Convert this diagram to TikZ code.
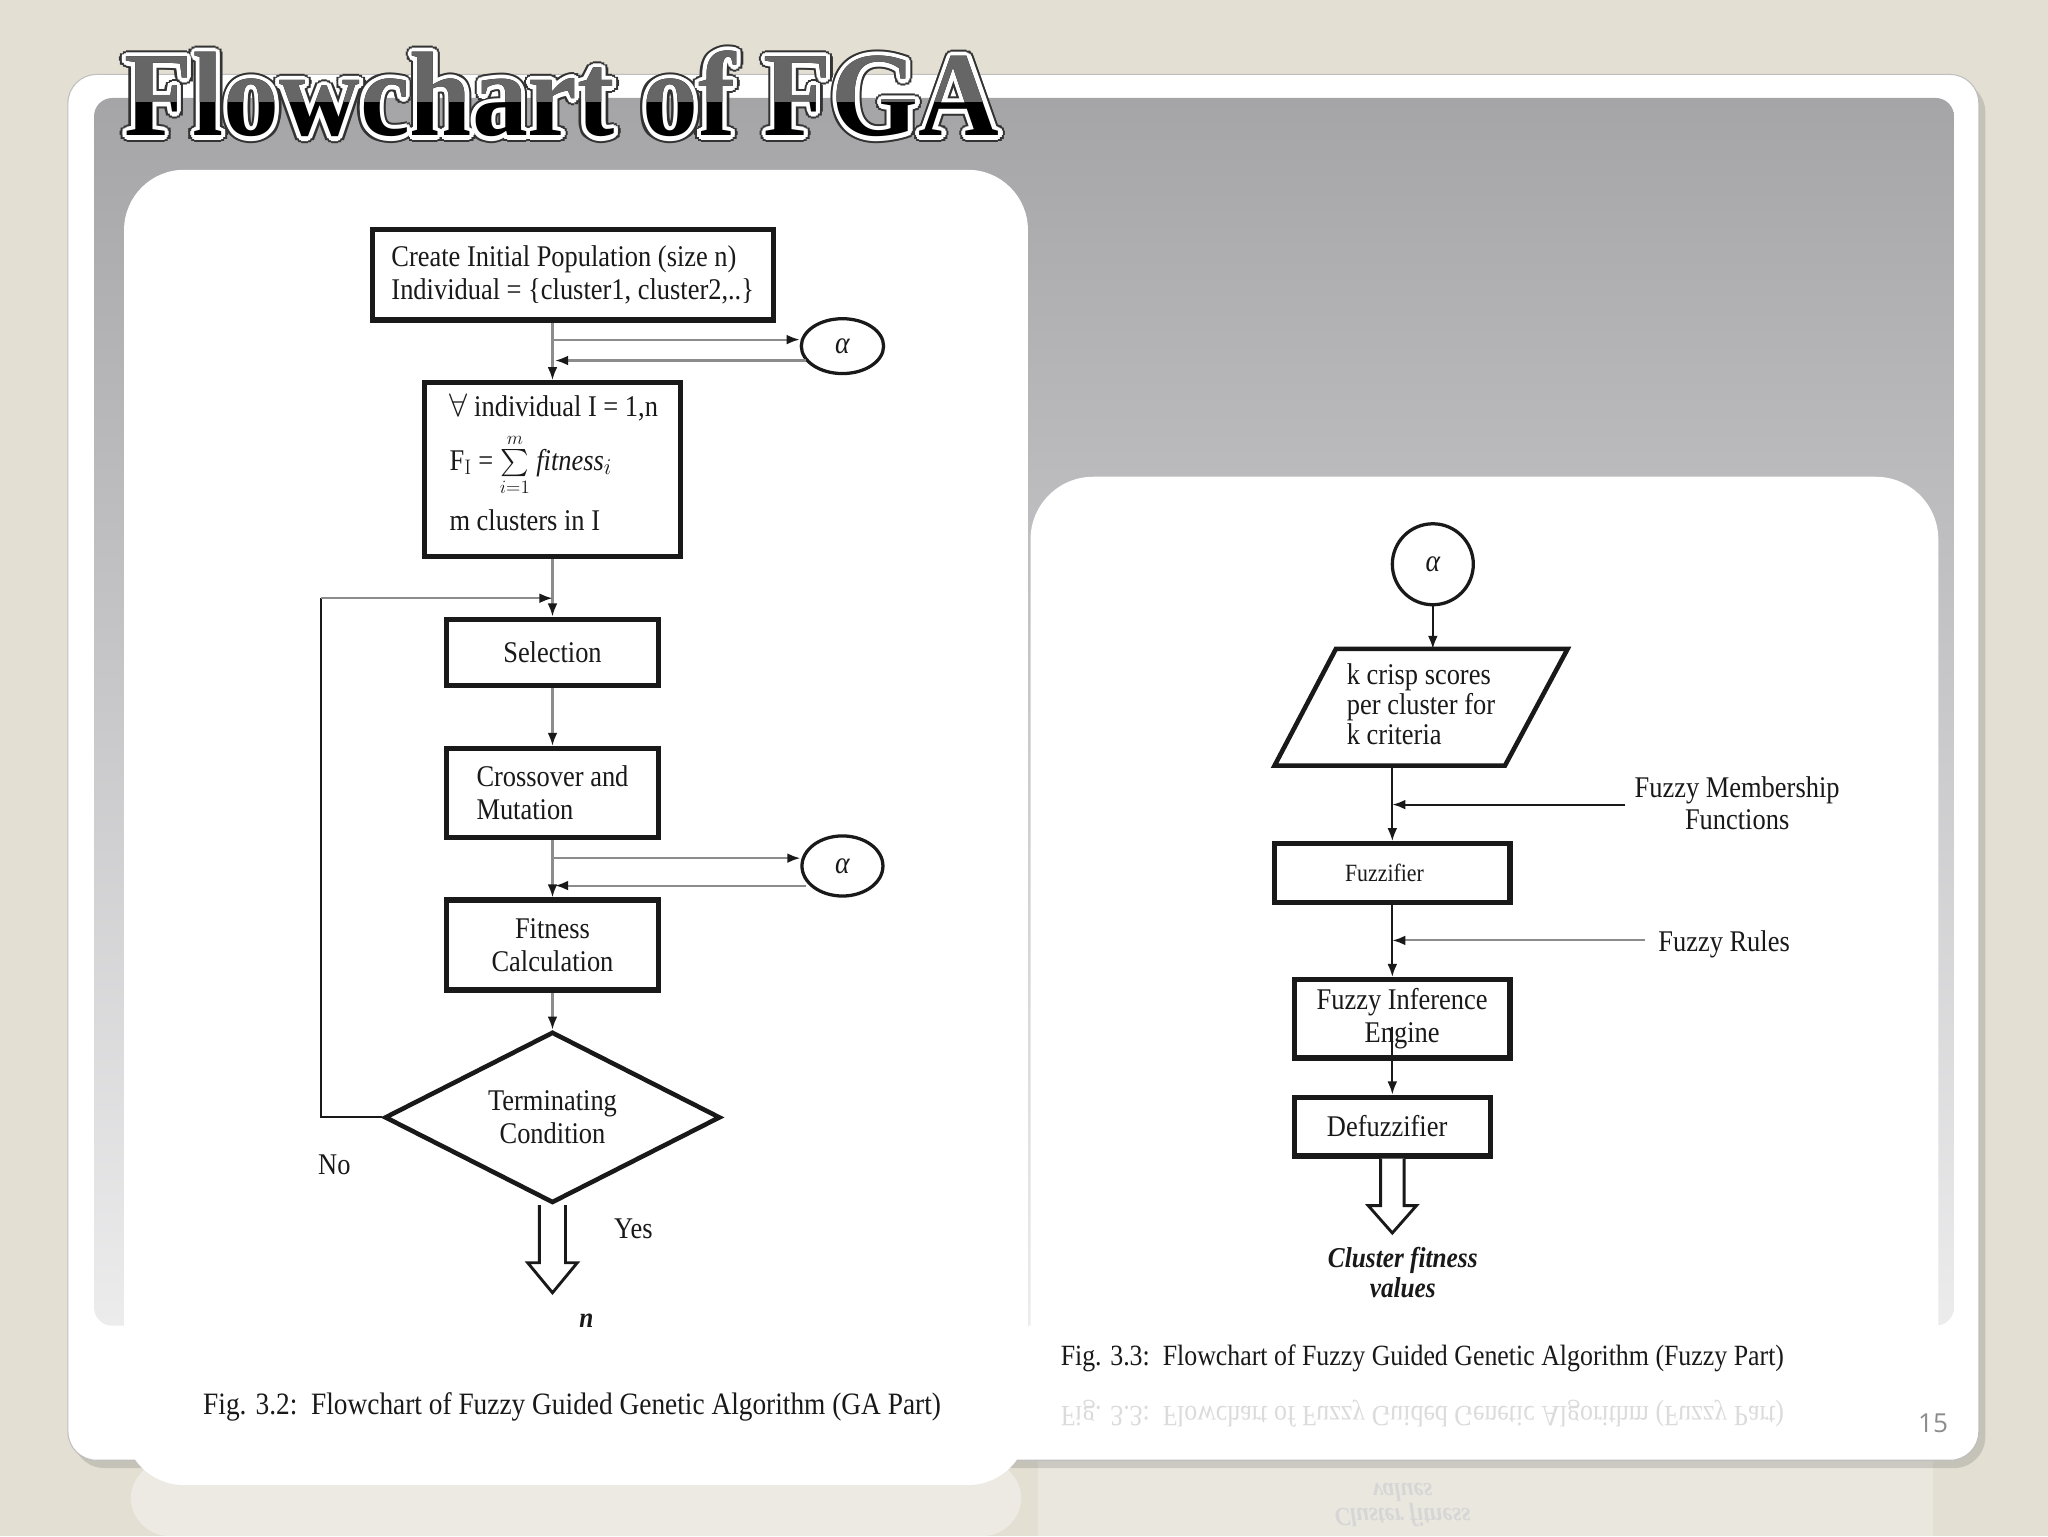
\documentclass[tikz,border=0pt]{standalone}
\usepackage{amsmath}
\usepackage{fontspec}
\newfontfamily\scanfont{Liberation Serif}[FakeStretch=0.88]
\newfontfamily\titlefont{Liberation Serif}[FakeStretch=0.93]
\newfontfamily\numfont{Open Sans}
\newcommand\chartfont{\scanfont\fontsize{23}{25}\selectfont}
\usetikzlibrary{arrows.meta,shapes.geometric,calc}
\definecolor{beige}{RGB}{227,223,211}
\definecolor{grayTop}{RGB}{165,165,168}
\definecolor{grayBot}{RGB}{236,236,237}
\definecolor{inkc}{RGB}{25,25,25}
\begin{document}
\begin{tikzpicture}[x=1pt,y=-1pt,
  flowbox/.style={draw=inkc, line width=4pt, fill=white, inner sep=0pt, font=\chartfont, text=inkc},
  conn/.style={line width=1.6pt, draw=black!45},
  darkconn/.style={line width=1.6pt, draw=inkc},
  tip/.style={-{Latex[length=10pt,width=7.5pt,color=inkc]}},
  lbl/.style={font=\chartfont, text=inkc, inner sep=1pt},
  alphanode/.style={draw=inkc, line width=2.5pt, ellipse, inner sep=0pt, font=\scanfont\itshape\fontsize{24}{26}\selectfont, text=inkc},
  hollow/.style={draw=inkc, line width=2.2pt, fill=white}
]
\useasboundingbox (0,0) rectangle (1568,1176);
% ---------- slide background ----------
\fill[beige] (0,0) rectangle (1568,1176);
\fill[white, opacity=0.35, rounded corners=30] (100,1118) rectangle (782,1176);
\fill[white, opacity=0.25] (795,1118) rectangle (1480,1176);
\fill[black, opacity=0.13, rounded corners=24] (56,62) rectangle (1520,1124);
\fill[white, draw=black!25, line width=0.8pt, rounded corners=22] (52,57) rectangle (1515,1118);
\shade[top color=grayTop, bottom color=grayBot, rounded corners=14] (72,75) rectangle (1496,1015);
% panels
\fill[white, rounded corners=46] (95,130) rectangle (787,1137);
\fill[white, rounded corners=48] (789,365) rectangle (1484,1117);
% ---------- title ----------
\foreach \a in {0,30,...,330}{
  \node[anchor=base west, inner sep=0pt, text=black!80, font=\titlefont\bfseries\fontsize{92}{92}\selectfont,
        xshift={5*cos(\a)}, yshift={5*sin(\a)}] (to\a) at (95,104) {Flowchart of FGA};
}
\foreach \a in {0,30,...,330}{
  \node[anchor=base west, inner sep=0pt, text=white, font=\titlefont\bfseries\fontsize{92}{92}\selectfont,
        xshift={3.2*cos(\a)}, yshift={3.2*sin(\a)}] (tw\a) at (95,104) {Flowchart of FGA};
}
\node[anchor=base west, inner sep=0pt, text=black, font=\titlefont\bfseries\fontsize{92}{92}\selectfont] (title) at (95,104) {Flowchart of FGA};
\begin{scope}
  \clip (0,0) rectangle (1568,78);
  \node[anchor=base west, inner sep=0pt, text=black!60, font=\titlefont\bfseries\fontsize{92}{92}\selectfont] (titletop) at (95,104) {Flowchart of FGA};
\end{scope}
% ---------- left flowchart ----------
\node[flowbox, minimum width=307, minimum height=69, align=left] (box1) at (438.5,210.5)
  {Create Initial Population (size n)\\Individual = \{cluster1, cluster2,..\}};
\node[flowbox, minimum width=196, minimum height=133] (box2) at (423,359.5) {};
\node[lbl, anchor=west, inner sep=0pt] (b2a) at (344,312) {$\forall$ individual I = 1,n};
\node[lbl, anchor=west, inner sep=0pt] (b2b) at (344,356) {F$_{\mathrm{I}}$ = {\fontsize{20}{22}\selectfont$\sum\limits_{i=1}^{m}$} \textit{fitness}$_{i}$};
\node[lbl, anchor=west, inner sep=0pt] (b2c) at (344,398) {m clusters in I};
\node[flowbox, minimum width=162, minimum height=51] (sel) at (423,499.5) {Selection};
\node[flowbox, minimum width=162, minimum height=68, align=left] (cross) at (423,607) {Crossover and\\Mutation};
\node[flowbox, minimum width=162, minimum height=69, align=center] (fit) at (423,723.5) {Fitness\\Calculation};
\node[flowbox, line width=3.5pt, diamond, aspect=1.96, minimum width=257, minimum height=131, align=center] (dia) at (423,855.5) {Terminating\\Condition};
\node[alphanode, minimum width=63, minimum height=42] (alpha1) at (645,265) {α};
\node[alphanode, minimum width=62, minimum height=46] (alpha2) at (645,663) {α};
\coordinate (o1) at (423,260);
\coordinate (r1) at (423,276);
\coordinate (o2) at (423,657);
\coordinate (r2) at (423,678);
\coordinate (lp) at (423,458);
\coordinate (lpx) at (246,458);
\draw[conn,tip] (box2.north |- box1.south) -- (box2.north);
\draw[conn,tip] (o1) -- (o1 -| alpha1.west);
\draw[conn,tip] ([xshift=5pt]r1 -| alpha1.west) -- ([xshift=2pt]r1);
\draw[conn,tip] (box2.south) -- (sel.north);
\draw[darkconn] (dia.west) -- (dia.west -| lpx) -- (lpx);
\draw[conn,tip] (lpx) -- (lp);
\draw[conn,tip] (sel.south) -- (cross.north);
\draw[conn,tip] (cross.south) -- (fit.north);
\draw[conn,tip] (o2) -- (o2 -| alpha2.west);
\draw[conn,tip] ([xshift=4pt]r2 -| alpha2.west) -- ([xshift=2pt]r2);
\draw[conn,tip] (fit.south) -- (dia.north);
\draw[hollow] ($(dia.south)+(-10,0)$) -- ++(0,44) -- ++(-9,0) -- ($(dia.south)+(0,67)$)
  -- ($(dia.south)+(19,44)$) -- ++(-9,0) -- ($(dia.south)+(10,0)$);
\node[lbl] (nolbl) at (256,892) {No};
\node[lbl] (yeslbl) at (485,941) {Yes};
\node[lbl, font=\scanfont\bfseries\itshape\fontsize{22}{24}\selectfont] (nlbl) at (449,1011) {n};
\node[lbl, font=\scanfont\fontsize{23.8}{25}\selectfont] (cap1) at (438,1077) {Fig. 3.2:\ \ Flowchart of Fuzzy Guided Genetic Algorithm (GA Part)};
% ---------- right flowchart ----------
\node[alphanode, circle, minimum size=62] (alpha3) at (1097,432) {α};
\node[inner sep=0pt, minimum width=224, minimum height=89, align=left, font=\scanfont\fontsize{23}{23}\selectfont, text=inkc] (para) at (1088,539.5)
  {k crisp scores\\per cluster for\\k criteria};
\draw[inkc, line width=3.5pt, line join=miter] ([xshift=47pt,yshift=-2pt]para.north west) -- ([yshift=-2pt]para.north east)
  -- ([xshift=-48pt,yshift=-2pt]para.south east) -- ([yshift=-2pt]para.south west) -- cycle;
\node[flowbox, minimum width=180, minimum height=45, font=\scanfont\fontsize{19}{21}\selectfont] (fuzz) at (1066,668.5) {\hspace*{-12pt}Fuzzifier};
\node[flowbox, minimum width=165, minimum height=60, align=center] (fie) at (1073.5,780) {Fuzzy Inference\\Engine};
\node[flowbox, minimum width=150, minimum height=45] (defz) at (1066,862.5) {\hspace*{-8pt}Defuzzifier};
\node[lbl, align=center, inner sep=7pt] (fmf) at (1330,615) {Fuzzy Membership\\Functions};
\node[lbl, inner sep=10pt] (fr) at (1320,723) {Fuzzy Rules};
\draw[darkconn,tip] (alpha3.south) -- ([yshift=-2pt]alpha3.south |- para.north);
\draw[darkconn,tip] ([yshift=-2pt]fuzz.north |- para.south) -- (fuzz.north);
\draw[darkconn,tip] (fmf.west |- 0,616) -- (fuzz.north |- 0,616);
\draw[darkconn,tip] (fuzz.south) -- (fuzz.south |- fie.north);
\draw[conn,tip] (fr.west |- 0,720) -- (fuzz.south |- 0,720);
\draw[darkconn,tip] ([yshift=-6pt]defz.north |- fie.center) -- (defz.north);
\draw[hollow] ($(defz.south)+(-9,0)$) -- ++(0,36) -- ++(-9.5,0) -- ($(defz.south)+(0,57)$)
  -- ($(defz.south)+(18.5,36)$) -- ++(-9.5,0) -- ($(defz.south)+(9,0)$);
\node[lbl, align=center, font=\scanfont\bfseries\itshape\fontsize{22}{23}\selectfont] (cfv) at (1074,974) {Cluster fitness\\values};
\node[lbl, font=\scanfont\fontsize{22.5}{25}\selectfont] (cap2) at (1089,1040) {Fig. 3.3:\ \ Flowchart of Fuzzy Guided Genetic Algorithm (Fuzzy Part)};
\node[lbl, text=black!14, font=\scanfont\fontsize{22.5}{25}\selectfont] (cap2r) at (1089,1082) {\scalebox{1}[-1]{Fig. 3.3:\ \ Flowchart of Fuzzy Guided Genetic Algorithm (Fuzzy Part)}};
\node[lbl, align=center, text=black!16, font=\scanfont\bfseries\itshape\fontsize{20}{23}\selectfont] (cfvr) at (1074,1150) {\scalebox{1}[-1]{\begin{tabular}{c}Cluster fitness\\[-4pt]values\end{tabular}}};
\node[font=\numfont\fontsize{20}{22}\selectfont, text=black!45, inner sep=0pt] (pnum) at (1480,1090) {15};
\end{tikzpicture}
\end{document}
